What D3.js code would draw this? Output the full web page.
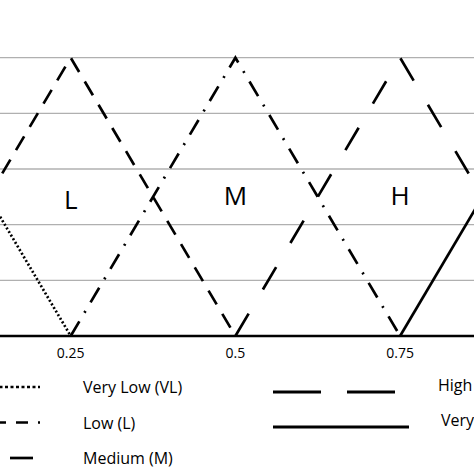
<!DOCTYPE html>
<html>
<head>
<meta charset="utf-8">
<script src="https://cdn.jsdelivr.net/npm/d3@7"></script>
<style>
body { margin: 0; background: #fff; }
text { font-family: "Open Sans", "Liberation Sans", Arial, sans-serif; }
</style>
</head>
<body>
<svg id="chart" width="474" height="474"></svg>
<script>
// membership functions (x, membership)
var veryLow = [[0, 1], [0.25, 0]];
var low = [[0, 0], [0.25, 1], [0.5, 0]];
var medium = [[0.25, 0], [0.5, 1], [0.75, 0]];
var high = [[0.5, 0], [0.75, 1], [1, 0]];
var veryHigh = [[0.75, 0], [1, 1]];
var xTicks = [0.25, 0.5, 0.75];
var yGrid = [0.2, 0.4, 0.6, 0.8, 1];
var letters = [["L", 0.25, 0.495], ["M", 0.5, 0.51], ["H", 0.75, 0.51]];
var legendLeft = ["Very Low (VL)", "Low (L)", "Medium (M)"];
var legendRight = ["High (H)", "Very High (VH)"];

var svg = d3.select('#chart');
var x = d3.scaleLinear().domain([0, 0.25]).range([-94, 70.7]);
var y = d3.scaleLinear().domain([0, 1]).range([336, 57.7]);

svg.append('g')
    .selectAll('line')
    .data(yGrid)
    .enter()
        .append('line')
        .attr('x1', 0).attr('x2', 474)
        .attr('y1', d => y(d)).attr('y2', d => y(d))
        .attr('stroke', '#b0b0b0').attr('stroke-width', 1.3);

var series = [
    { data: veryLow, dash: '2,2.2' },
    { data: low, dash: '16,11' },
    { data: medium, dash: '17,10,2,10' },
    { data: high, dash: '26,28' },
    { data: veryHigh, dash: null }
];

var line = d3.line().x(d => x(d[0])).y(d => y(d[1]));

svg.append('g')
    .selectAll('path')
    .data(series)
    .enter()
        .append('path')
        .attr('d', s => line(s.data))
        .attr('fill', 'none')
        .attr('stroke', '#000')
        .attr('stroke-width', 2.7)
        .attr('stroke-dasharray', s => s.dash);

svg.append('line')
    .attr('x1', 0).attr('x2', 474)
    .attr('y1', y(0)).attr('y2', y(0))
    .attr('stroke', '#000').attr('stroke-width', 2.7);

svg.append('g')
    .selectAll('text')
    .data(xTicks)
    .enter()
        .append('text')
        .attr('x', d => x(d)).attr('y', 358)
        .attr('text-anchor', 'middle')
        .attr('font-size', 14)
        .text(d => d);

svg.append('g')
    .selectAll('text')
    .data(letters)
    .enter()
        .append('text')
        .attr('x', d => x(d[1])).attr('y', d => y(d[2]) + 11)
        .attr('text-anchor', 'middle')
        .attr('font-size', 26)
        .text(d => d[0]);

var leftDash = ['3,2.5', '12,10', null];
var lg = svg.append('g');
legendLeft.forEach(function (t, i) {
    var ly = 387 + i * 35.5;
    var x1 = i === 2 ? 10 : -6, x2 = i === 2 ? 33 : 40;
    lg.append('line').attr('x1', x1).attr('x2', x2).attr('y1', ly).attr('y2', ly)
        .attr('stroke', '#000').attr('stroke-width', 2.7)
        .attr('stroke-dasharray', leftDash[i]);
    lg.append('text').attr('x', 83).attr('y', ly + 6).attr('font-size', 16).text(t);
});
var rightDash = ['48,26', null];
legendRight.forEach(function (t, i) {
    var ly = 392 + i * 35;
    lg.append('line').attr('x1', 273).attr('x2', 409).attr('y1', ly).attr('y2', ly)
        .attr('stroke', '#000').attr('stroke-width', 3.2)
        .attr('stroke-dasharray', rightDash[i]);
    lg.append('text').attr('x', i === 0 ? 438 : 441).attr('y', ly - 1).attr('font-size', 16).text(t);
});
</script>
</body>
</html>
